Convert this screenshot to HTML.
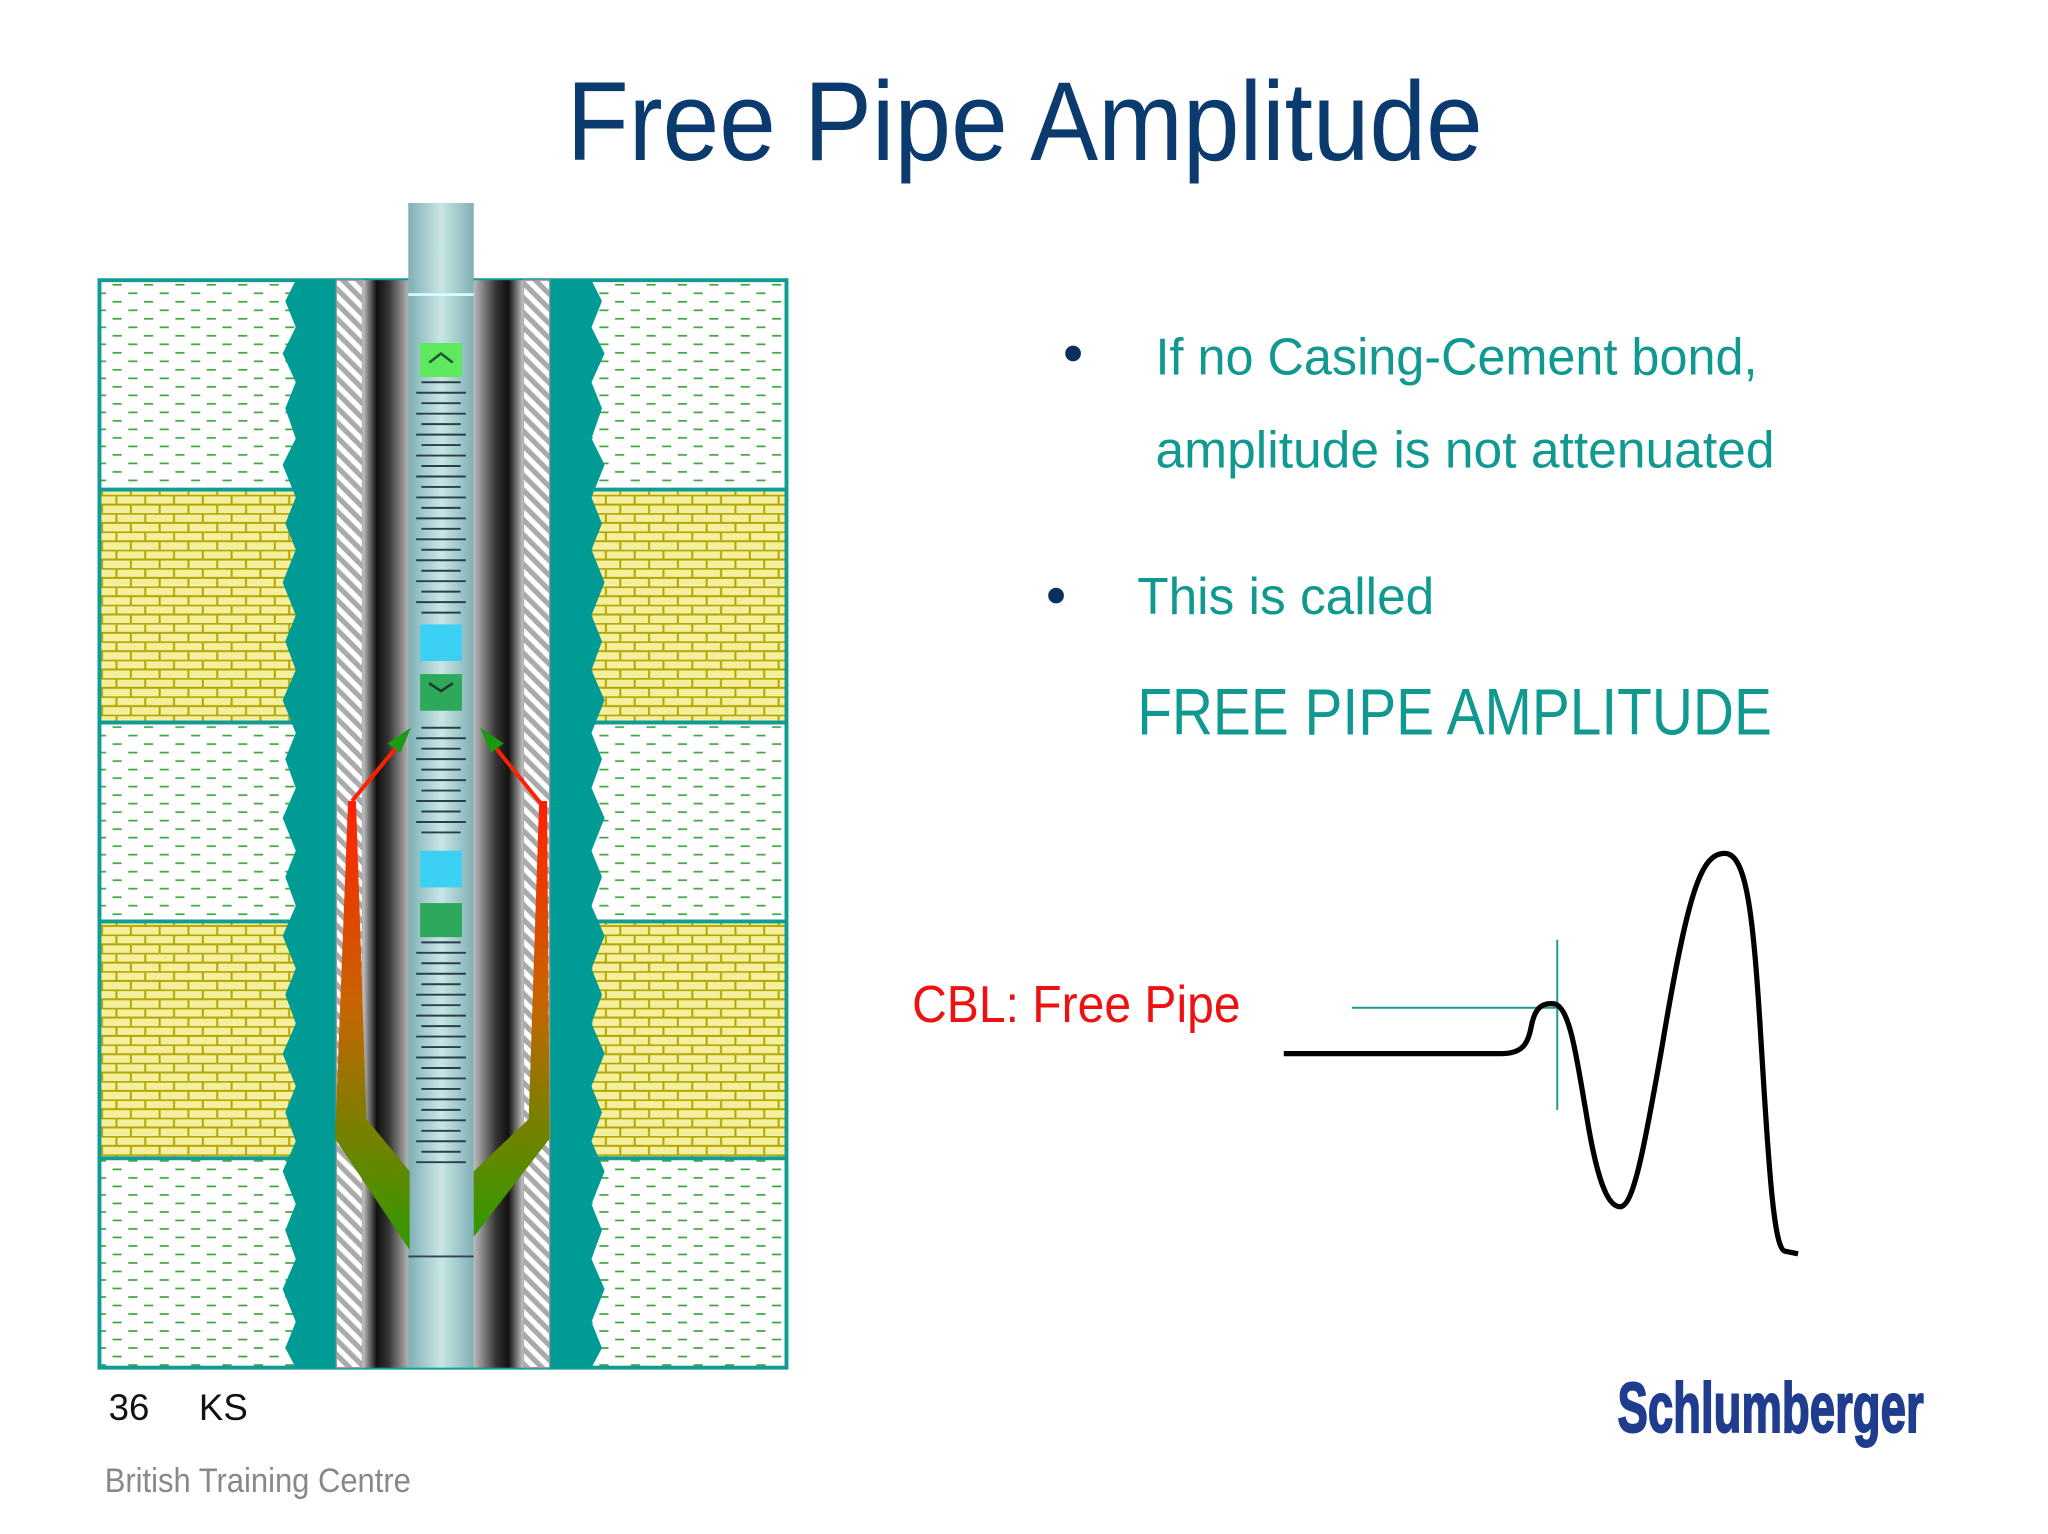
<!DOCTYPE html>
<html><head><meta charset="utf-8"><style>html,body{margin:0;padding:0;background:#fff}svg{display:block}</style></head>
<body>
<svg width="2048" height="1534" viewBox="0 0 1565 1172" xmlns="http://www.w3.org/2000/svg" font-family="'Liberation Sans Narrow','Liberation Sans',sans-serif">
<defs>
<pattern id="shale" width="24" height="13" patternUnits="userSpaceOnUse">
<rect width="24" height="13" fill="#fff"/>
<line x1="2" y1="3" x2="9" y2="3" stroke="#3aa63a" stroke-width="1.3"/>
<line x1="14" y1="9.5" x2="21" y2="9.5" stroke="#3aa63a" stroke-width="1.3"/>
</pattern>
<pattern id="brick" width="22" height="14" patternUnits="userSpaceOnUse">
<rect width="22" height="14" fill="#f4ef9c"/>
<line x1="0" y1="0.5" x2="22" y2="0.5" stroke="#b3a500" stroke-width="1.5"/>
<line x1="0" y1="7.5" x2="22" y2="7.5" stroke="#b3a500" stroke-width="1.5"/>
<line x1="1" y1="0" x2="1" y2="7" stroke="#b3a500" stroke-width="1.5"/>
<line x1="12" y1="7" x2="12" y2="14" stroke="#b3a500" stroke-width="1.5"/>
</pattern>
<pattern id="hatch" width="8" height="8" patternUnits="userSpaceOnUse" patternTransform="rotate(-45)">
<rect width="8" height="8" fill="#fff"/>
<rect width="4" height="8" fill="#aaa"/>
</pattern>
<linearGradient id="annL" x1="0" x2="1"><stop offset="0" stop-color="#c8c8c8"/><stop offset="0.3" stop-color="#111"/><stop offset="0.55" stop-color="#333"/><stop offset="1" stop-color="#bbb"/></linearGradient>
<linearGradient id="annR" x1="0" x2="1"><stop offset="0" stop-color="#bbb"/><stop offset="0.45" stop-color="#333"/><stop offset="0.7" stop-color="#111"/><stop offset="1" stop-color="#c8c8c8"/></linearGradient>
<linearGradient id="tool" x1="0" x2="1"><stop offset="0" stop-color="#7fb0b4"/><stop offset="0.5" stop-color="#c9e6e6"/><stop offset="1" stop-color="#7fb0b4"/></linearGradient>
<linearGradient id="wave" x1="0" y1="0" x2="0" y2="1"><stop offset="0" stop-color="#ff2000"/><stop offset="0.45" stop-color="#c86400"/><stop offset="1" stop-color="#2e9a00"/></linearGradient>
</defs>

<text x="783" y="122" text-anchor="middle" font-size="86" fill="#0b3a6e" textLength="700" lengthAdjust="spacingAndGlyphs">Free Pipe Amplitude</text>

<rect x="76" y="214" width="150" height="160" fill="url(#shale)"/>
<rect x="76" y="374" width="150" height="178" fill="url(#brick)"/>
<rect x="76" y="552" width="150" height="152" fill="url(#shale)"/>
<rect x="76" y="704" width="150" height="181" fill="url(#brick)"/>
<rect x="76" y="885" width="150" height="160" fill="url(#shale)"/>
<rect x="452" y="214" width="148" height="160" fill="url(#shale)"/>
<rect x="452" y="374" width="148" height="178" fill="url(#brick)"/>
<rect x="452" y="552" width="148" height="152" fill="url(#shale)"/>
<rect x="452" y="704" width="148" height="181" fill="url(#brick)"/>
<rect x="452" y="885" width="148" height="160" fill="url(#shale)"/>
<g stroke="#0f9b96" stroke-width="3" fill="none">
<rect x="76" y="214" width="525" height="831"/>
<line x1="76" y1="374" x2="226" y2="374"/><line x1="76" y1="552" x2="226" y2="552"/><line x1="76" y1="704" x2="226" y2="704"/><line x1="76" y1="885" x2="226" y2="885"/>
<line x1="452" y1="374" x2="601" y2="374"/><line x1="452" y1="552" x2="601" y2="552"/><line x1="452" y1="704" x2="601" y2="704"/><line x1="452" y1="885" x2="601" y2="885"/>
</g>
<polygon fill="#009b94" points="226,214 218,230 226,250 216,270 226,292 218,312 226,335 216,355 226,380 218,400 226,420 216,445 226,470 218,490 226,512 216,535 226,560 218,580 226,602 216,625 226,650 218,670 226,692 216,715 226,740 218,760 226,782 216,805 226,830 218,850 226,872 216,895 226,920 218,940 226,962 216,985 226,1010 218,1030 226,1045 258,1045 258,214"/>
<polygon fill="#009b94" points="452,214 460,230 452,250 462,270 452,292 460,312 452,335 462,355 452,380 460,400 452,420 462,445 452,470 460,490 452,512 462,535 452,560 460,580 452,602 462,625 452,650 460,670 452,692 462,715 452,740 460,760 452,782 462,805 452,830 460,850 452,872 462,895 452,920 460,940 452,962 462,985 452,1010 460,1030 452,1045 420,1045 420,214"/>
<rect x="257" y="214" width="20" height="831" fill="url(#hatch)" stroke="#999" stroke-width="1"/>
<rect x="400" y="214" width="20" height="831" fill="url(#hatch)" stroke="#999" stroke-width="1"/>
<rect x="277" y="214" width="36" height="831" fill="url(#annL)"/>
<rect x="362" y="214" width="38" height="831" fill="url(#annR)"/>
<rect x="312" y="155" width="50" height="890" fill="url(#tool)"/>
<line x1="312" y1="225" x2="362" y2="225" stroke="#dff" stroke-width="2"/>
<line x1="312" y1="960" x2="362" y2="960" stroke="#345" stroke-width="1.5"/>
<g stroke="#2a3f48" stroke-width="1.5">
<path d="M322 292H352M318 300H356M322 308H352M318 316H356M322 324H352M318 332H356M322 340H352M318 348H356M322 356H352M318 364H356M322 372H352M318 380H356M322 388H352M318 396H356M322 404H352M318 412H356M322 420H352M318 428H356M322 436H352M318 444H356M322 452H352M318 460H356M322 468H352"/>
<path d="M322 556H352M318 564H356M322 572H352M318 580H356M322 588H352M318 596H356M322 604H352M318 612H356M322 620H352M318 628H356M322 636H352"/>
<path d="M322 720H352M318 728H356M322 736H352M318 744H356M322 752H352M318 760H356M322 768H352M318 776H356M322 784H352M318 792H356M322 800H352M318 808H356M322 816H352M318 824H356M322 832H352M318 840H356M322 848H352M318 856H356M322 864H352M318 872H356M322 880H352M318 888H356"/>
</g>
<rect x="321" y="262" width="32" height="26" fill="#5ee85e"/>
<path d="M328 277 L337 270 L346 277" stroke="#1b5b2b" stroke-width="2" fill="none"/>
<rect x="321" y="477" width="32" height="28" fill="#3dd0f5"/>
<rect x="321" y="515" width="32" height="28" fill="#2ea85a"/>
<path d="M328 522 L337 528 L346 522" stroke="#1b3b2b" stroke-width="2" fill="none"/>
<rect x="321" y="650" width="32" height="28" fill="#3dd0f5"/>
<rect x="321" y="690" width="32" height="26" fill="#2ea85a"/>
<polygon fill="url(#wave)" points="266,612 272,612 280,855 313,895 313,955 256,870"/>
<polygon fill="url(#wave)" points="412,612 418,612 420,870 362,945 362,895 404,855"/>
<polyline points="269,612 307,566" stroke="#ff2000" stroke-width="3" fill="none"/>
<polyline points="415,616 376,568" stroke="#ff2000" stroke-width="3" fill="none"/>
<polygon points="314,556 296,568 306,575" fill="#1a9a10"/>
<polygon points="367,556 385,568 375,575" fill="#1a9a10"/>

<circle cx="820" cy="270" r="6" fill="#0b3060"/>
<circle cx="807" cy="455" r="6" fill="#0b3060"/>
<g fill="#109990">
<text x="883" y="286" font-size="40" textLength="460" lengthAdjust="spacingAndGlyphs">If no Casing-Cement bond,</text>
<text x="883" y="357" font-size="40" textLength="473" lengthAdjust="spacingAndGlyphs">amplitude is not attenuated</text>
<text x="869" y="469" font-size="40" textLength="227" lengthAdjust="spacingAndGlyphs">This is called</text>
<text x="869" y="561" font-size="50" textLength="485" lengthAdjust="spacingAndGlyphs">FREE PIPE AMPLITUDE</text>
</g>
<text x="697" y="781" font-size="40" fill="#ee1111" textLength="251" lengthAdjust="spacingAndGlyphs">CBL: Free Pipe</text>

<line x1="1033" y1="770" x2="1190" y2="770" stroke="#1a9a96" stroke-width="1.5"/>
<line x1="1190" y1="718" x2="1190" y2="848" stroke="#1a9a96" stroke-width="1.5"/>
<path d="M981 805 L1148 805 C1165 805 1168 795 1170 785 C1173 768 1180 766 1188 767 C1200 770 1205 810 1212 850 C1220 900 1228 922 1238 922 C1248 922 1256 880 1270 800 C1290 680 1300 652 1318 652 C1335 652 1340 700 1346 800 C1352 900 1356 955 1364 956 L1374 958" stroke="#000" stroke-width="4" fill="none" stroke-linejoin="round"/>

<text x="83" y="1085" font-size="28" fill="#111" font-family="'Liberation Sans',sans-serif">36</text>
<text x="152" y="1085" font-size="28" fill="#111" font-family="'Liberation Sans',sans-serif">KS</text>
<text x="80" y="1140" font-size="26" fill="#888" textLength="234" lengthAdjust="spacingAndGlyphs">British Training Centre</text>
<text x="1236" y="1094" font-size="54" font-weight="bold" fill="#1f3c8e" stroke="#1f3c8e" stroke-width="1.5" textLength="234" lengthAdjust="spacingAndGlyphs">Schlumberger</text>
</svg>
</body></html>
